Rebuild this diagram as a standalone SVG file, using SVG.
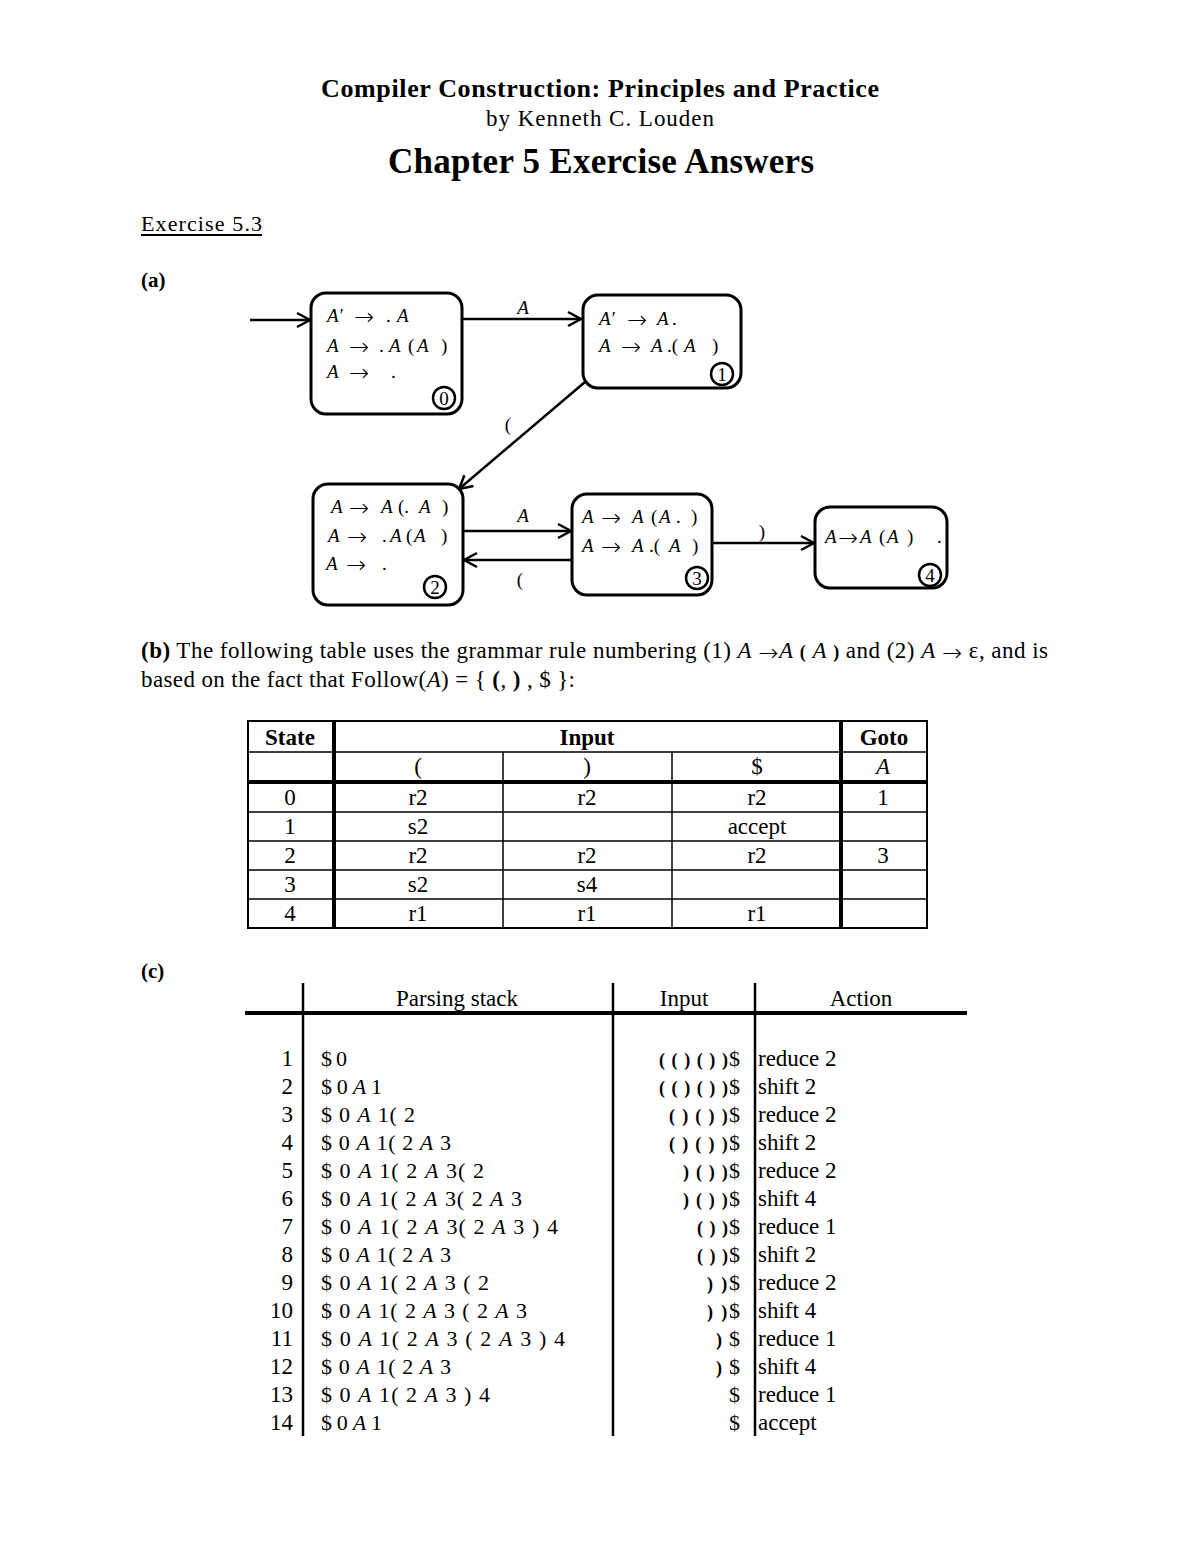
<svg xmlns="http://www.w3.org/2000/svg" width="1200" height="1553" viewBox="0 0 1200 1553">
<defs>
<style>
text{font-family:"Liberation Serif","Times New Roman",serif;fill:#000}
.b{font-weight:bold}
.i{font-style:italic}
.ar{font-family:"DejaVu Sans","Noto Sans",sans-serif;font-style:normal;font-weight:200;font-size:24px;baseline-shift:-3px}
.box{fill:#fff;stroke:#000;stroke-width:3}
.edge{stroke:#000;stroke-width:2.5;fill:none}
.num{fill:#fff;stroke:#000;stroke-width:2.5}
.st{font-size:19px}
.cn{font-size:19px;text-anchor:middle}
.tb{font-size:23px;text-anchor:middle}
.pr{font-size:23px}
.thin{stroke:#000;stroke-width:1.5}
.thick{stroke:#000;stroke-width:4}
</style>
<marker id="arr" markerUnits="userSpaceOnUse" markerWidth="20" markerHeight="20" viewBox="-14 -10 16 20" refX="0" refY="0" orient="auto">
<path d="M-13,-7 L0,0 L-13,7" fill="none" stroke="#000" stroke-width="2.5"/>
</marker>
</defs>
<rect width="1200" height="1553" fill="#fff"/>

<g id="header">
<text x="600" y="97" class="b" font-size="26" text-anchor="middle" textLength="558">Compiler Construction: Principles and Practice</text>
<text x="600" y="126" font-size="23" text-anchor="middle" textLength="228">by Kenneth C. Louden</text>
<text x="601" y="173" class="b" font-size="35" text-anchor="middle" textLength="426">Chapter 5 Exercise Answers</text>
<text x="141" y="231" font-size="22" textLength="121">Exercise 5.3</text>
<line x1="141" y1="235" x2="262" y2="235" stroke="#000" stroke-width="2"/>
<text x="141" y="287" class="b" font-size="21">(a)</text>
</g>

<g id="edges">
<line class="edge" x1="250" y1="320" x2="310" y2="320" marker-end="url(#arr)"/>
<line class="edge" x1="462" y1="319" x2="581" y2="319" marker-end="url(#arr)"/>
<text x="523" y="314" class="st i" text-anchor="middle">A</text>
<line class="edge" x1="585" y1="382" x2="459" y2="489" marker-end="url(#arr)"/>
<text x="508" y="431" class="st" text-anchor="middle">(</text>
<line class="edge" x1="463" y1="531" x2="571" y2="531" marker-end="url(#arr)"/>
<text x="523" y="522" class="st i" text-anchor="middle">A</text>
<line class="edge" x1="572" y1="560" x2="464" y2="560" marker-end="url(#arr)"/>
<text x="520" y="586" class="st" text-anchor="middle">(</text>
<line class="edge" x1="712" y1="543" x2="814" y2="543" marker-end="url(#arr)"/>
<text x="762" y="538" class="st" text-anchor="middle">)</text>
</g>

<g id="state0">
<rect class="box" x="311" y="293" width="151" height="121" rx="15"/>
<text class="st" y="322"><tspan x="327" class="i">A′</tspan><tspan x="354" class="ar">→</tspan><tspan x="386">.</tspan><tspan x="397" class="i">A</tspan></text>
<text class="st" y="352"><tspan x="327" class="i">A</tspan><tspan x="349" class="ar">→</tspan><tspan x="379">.</tspan><tspan x="389" class="i">A</tspan><tspan x="408">(</tspan><tspan x="417" class="i">A</tspan><tspan x="441">)</tspan></text>
<text class="st" y="378"><tspan x="327" class="i">A</tspan><tspan x="349" class="ar">→</tspan><tspan x="391">.</tspan></text>
<circle class="num" cx="444" cy="398" r="11"/>
<text class="cn" x="444" y="405">0</text>
</g>

<g id="state1">
<rect class="box" x="583" y="295" width="158" height="93" rx="15"/>
<text class="st" y="325"><tspan x="599" class="i">A′</tspan><tspan x="627" class="ar">→</tspan><tspan x="657" class="i">A</tspan><tspan x="672">.</tspan></text>
<text class="st" y="352"><tspan x="599" class="i">A</tspan><tspan x="621" class="ar">→</tspan><tspan x="651" class="i">A</tspan><tspan x="667">.(</tspan><tspan x="684" class="i">A</tspan><tspan x="712">)</tspan></text>
<circle class="num" cx="722" cy="374" r="11"/>
<text class="cn" x="722" y="381">1</text>
</g>

<g id="state2">
<rect class="box" x="313" y="484" width="150" height="121" rx="15"/>
<text class="st" y="513"><tspan x="331" class="i">A</tspan><tspan x="349" class="ar">→</tspan><tspan x="381" class="i">A</tspan><tspan x="398">(.</tspan><tspan x="419" class="i">A</tspan><tspan x="442">)</tspan></text>
<text class="st" y="542"><tspan x="328" class="i">A</tspan><tspan x="347" class="ar">→</tspan><tspan x="382">.</tspan><tspan x="390" class="i">A</tspan><tspan x="406">(</tspan><tspan x="414" class="i">A</tspan><tspan x="441">)</tspan></text>
<text class="st" y="570"><tspan x="326" class="i">A</tspan><tspan x="346" class="ar">→</tspan><tspan x="382">.</tspan></text>
<circle class="num" cx="435" cy="587" r="11"/>
<text class="cn" x="435" y="594">2</text>
</g>

<g id="state3">
<rect class="box" x="572" y="494" width="140" height="101" rx="15"/>
<text class="st" y="523"><tspan x="582" class="i">A</tspan><tspan x="601" class="ar">→</tspan><tspan x="632" class="i">A</tspan><tspan x="651">(</tspan><tspan x="659" class="i">A</tspan><tspan x="676">.</tspan><tspan x="691">)</tspan></text>
<text class="st" y="552"><tspan x="582" class="i">A</tspan><tspan x="601" class="ar">→</tspan><tspan x="632" class="i">A</tspan><tspan x="649">.(</tspan><tspan x="669" class="i">A</tspan><tspan x="692">)</tspan></text>
<circle class="num" cx="697" cy="578" r="11"/>
<text class="cn" x="697" y="585">3</text>
</g>

<g id="state4">
<rect class="box" x="815" y="507" width="132" height="81" rx="15"/>
<text class="st" y="543"><tspan x="825" class="i">A</tspan><tspan x="838" class="ar">→</tspan><tspan x="860" class="i">A</tspan><tspan x="879">(</tspan><tspan x="887" class="i">A</tspan><tspan x="907">)</tspan><tspan x="937">.</tspan></text>
<circle class="num" cx="930" cy="575" r="11"/>
<text class="cn" x="930" y="582">4</text>
</g>

<g id="partb">
<text x="141" y="658" font-size="23" textLength="907"><tspan class="b">(b)</tspan> The following table uses the grammar rule numbering (1) <tspan class="i">A</tspan> <tspan class="ar">→</tspan><tspan class="i">A</tspan> <tspan class="b" font-size="18">(</tspan> <tspan class="i">A</tspan> <tspan class="b" font-size="18">)</tspan> and (2) <tspan class="i">A</tspan> <tspan class="ar">→</tspan> ε, and is</text>
<text x="141" y="687" font-size="23" textLength="434">based on the fact that Follow(<tspan class="i">A</tspan>) = {  <tspan class="b">(</tspan>, <tspan class="b">)</tspan> , $ }:</text>
</g>

<g id="table1">
<rect x="248" y="721" width="679" height="207" fill="none" stroke="#000" stroke-width="2"/>
<line class="thin" x1="248" y1="752" x2="927" y2="752"/>
<line class="thick" x1="248" y1="782" x2="927" y2="782"/>
<line class="thin" x1="248" y1="812" x2="927" y2="812"/>
<line class="thin" x1="248" y1="841" x2="927" y2="841"/>
<line class="thin" x1="248" y1="870" x2="927" y2="870"/>
<line class="thin" x1="248" y1="899" x2="927" y2="899"/>
<line class="thick" x1="334" y1="721" x2="334" y2="928"/>
<line class="thick" x1="841" y1="721" x2="841" y2="928"/>
<line class="thin" x1="503" y1="752" x2="503" y2="928"/>
<line class="thin" x1="672" y1="752" x2="672" y2="928"/>
<text class="tb b" x="290" y="745">State</text>
<text class="tb b" x="587" y="745">Input</text>
<text class="tb b" x="884" y="745">Goto</text>
<text class="tb" x="418" y="774">(</text>
<text class="tb" x="587" y="774">)</text>
<text class="tb" x="757" y="774">$</text>
<text class="tb i" x="883" y="774">A</text>
<text class="tb" x="290" y="805">0</text><text class="tb" x="418" y="805">r2</text><text class="tb" x="587" y="805">r2</text><text class="tb" x="757" y="805">r2</text><text class="tb" x="883" y="805">1</text>
<text class="tb" x="290" y="834">1</text><text class="tb" x="418" y="834">s2</text><text class="tb" x="757" y="834">accept</text>
<text class="tb" x="290" y="863">2</text><text class="tb" x="418" y="863">r2</text><text class="tb" x="587" y="863">r2</text><text class="tb" x="757" y="863">r2</text><text class="tb" x="883" y="863">3</text>
<text class="tb" x="290" y="892">3</text><text class="tb" x="418" y="892">s2</text><text class="tb" x="587" y="892">s4</text>
<text class="tb" x="290" y="921">4</text><text class="tb" x="418" y="921">r1</text><text class="tb" x="587" y="921">r1</text><text class="tb" x="757" y="921">r1</text>
</g>

<g id="partc">
<text x="141" y="978" class="b" font-size="21">(c)</text>
<line x1="245" y1="1013" x2="967" y2="1013" stroke="#000" stroke-width="4"/>
<line x1="303" y1="983" x2="303" y2="1436" stroke="#000" stroke-width="2.5"/>
<line x1="613" y1="983" x2="613" y2="1436" stroke="#000" stroke-width="2.5"/>
<line x1="755" y1="983" x2="755" y2="1436" stroke="#000" stroke-width="2.5"/>
<text class="pr" x="457" y="1006" text-anchor="middle">Parsing stack</text>
<text class="pr" x="684" y="1006" text-anchor="middle">Input</text>
<text class="pr" x="861" y="1006" text-anchor="middle">Action</text>

<g class="pr" text-anchor="end">
<text x="293" y="1066">1</text><text x="293" y="1094">2</text><text x="293" y="1122">3</text><text x="293" y="1150">4</text><text x="293" y="1178">5</text><text x="293" y="1206">6</text><text x="293" y="1234">7</text><text x="293" y="1262">8</text><text x="293" y="1290">9</text><text x="293" y="1318">10</text><text x="293" y="1346">11</text><text x="293" y="1374">12</text><text x="293" y="1402">13</text><text x="293" y="1430">14</text>
</g>

<g font-size="22">
<text x="321" y="1066" textLength="26">$ 0</text>
<text x="321" y="1094" textLength="61">$ 0 <tspan class="i">A</tspan> 1</text>
<text x="321" y="1122" textLength="94">$ 0 <tspan class="i">A</tspan> 1( 2</text>
<text x="321" y="1150" textLength="130">$ 0 <tspan class="i">A</tspan> 1( 2 <tspan class="i">A</tspan> 3</text>
<text x="321" y="1178" textLength="163">$ 0 <tspan class="i">A</tspan> 1( 2 <tspan class="i">A</tspan> 3( 2</text>
<text x="321" y="1206" textLength="201">$ 0 <tspan class="i">A</tspan> 1( 2 <tspan class="i">A</tspan> 3( 2 <tspan class="i">A</tspan> 3</text>
<text x="321" y="1234" textLength="237">$ 0 <tspan class="i">A</tspan> 1( 2 <tspan class="i">A</tspan> 3( 2 <tspan class="i">A</tspan> 3 ) 4</text>
<text x="321" y="1262" textLength="130">$ 0 <tspan class="i">A</tspan> 1( 2 <tspan class="i">A</tspan> 3</text>
<text x="321" y="1290" textLength="168">$ 0 <tspan class="i">A</tspan> 1( 2 <tspan class="i">A</tspan> 3 ( 2</text>
<text x="321" y="1318" textLength="206">$ 0 <tspan class="i">A</tspan> 1( 2 <tspan class="i">A</tspan> 3 ( 2 <tspan class="i">A</tspan> 3</text>
<text x="321" y="1346" textLength="244">$ 0 <tspan class="i">A</tspan> 1( 2 <tspan class="i">A</tspan> 3 ( 2 <tspan class="i">A</tspan> 3 ) 4</text>
<text x="321" y="1374" textLength="130">$ 0 <tspan class="i">A</tspan> 1( 2 <tspan class="i">A</tspan> 3</text>
<text x="321" y="1402" textLength="169">$ 0 <tspan class="i">A</tspan> 1( 2 <tspan class="i">A</tspan> 3 ) 4</text>
<text x="321" y="1430" textLength="61">$ 0 <tspan class="i">A</tspan> 1</text>
</g>

<g font-size="22" text-anchor="end">
<text x="740" y="1066" textLength="81"><tspan class="b" font-size="18">( ( ) ( ) )</tspan>$</text>
<text x="740" y="1094" textLength="81"><tspan class="b" font-size="18">( ( ) ( ) )</tspan>$</text>
<text x="740" y="1122" textLength="71"><tspan class="b" font-size="18">( ) ( ) )</tspan>$</text>
<text x="740" y="1150" textLength="71"><tspan class="b" font-size="18">( ) ( ) )</tspan>$</text>
<text x="740" y="1178" textLength="57"><tspan class="b" font-size="18">) ( ) )</tspan>$</text>
<text x="740" y="1206" textLength="57"><tspan class="b" font-size="18">) ( ) )</tspan>$</text>
<text x="740" y="1234" textLength="43"><tspan class="b" font-size="18">( ) )</tspan>$</text>
<text x="740" y="1262" textLength="43"><tspan class="b" font-size="18">( ) )</tspan>$</text>
<text x="740" y="1290" textLength="33"><tspan class="b" font-size="18">) )</tspan>$</text>
<text x="740" y="1318" textLength="33"><tspan class="b" font-size="18">) )</tspan>$</text>
<text x="740" y="1346" textLength="24"><tspan class="b" font-size="18">)</tspan>$</text>
<text x="740" y="1374" textLength="24"><tspan class="b" font-size="18">)</tspan>$</text>
<text x="740" y="1402">$</text>
<text x="740" y="1430">$</text>
</g>

<g font-size="23">
<text x="758" y="1066">reduce 2</text>
<text x="758" y="1094">shift 2</text>
<text x="758" y="1122">reduce 2</text>
<text x="758" y="1150">shift 2</text>
<text x="758" y="1178">reduce 2</text>
<text x="758" y="1206">shift 4</text>
<text x="758" y="1234">reduce 1</text>
<text x="758" y="1262">shift 2</text>
<text x="758" y="1290">reduce 2</text>
<text x="758" y="1318">shift 4</text>
<text x="758" y="1346">reduce 1</text>
<text x="758" y="1374">shift 4</text>
<text x="758" y="1402">reduce 1</text>
<text x="758" y="1430">accept</text>
</g>
</g>
</svg>
